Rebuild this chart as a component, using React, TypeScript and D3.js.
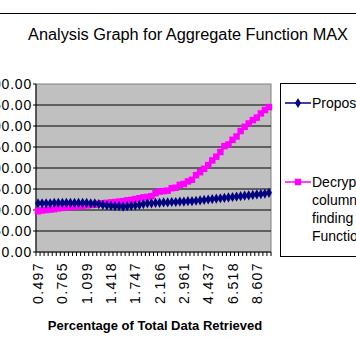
import React from "react";
import * as d3 from "d3";

const title = "Analysis Graph for Aggregate Function MAX";
const xTitle = "Percentage of Total Data Retrieved";
const tickLabels = ["0.497", "0.765", "1.099", "1.418", "1.747", "2.166", "2.961", "4.437", "6.518", "8.607"];
const labelEvery = 6;
const yTicks = [0, 50, 100, 150, 200, 250, 300, 350, 400];

const proposed = [
  116, 116, 116, 116, 117, 117, 117, 117, 117, 117, 117, 117, 117, 116, 116,
  114, 112, 111, 110, 109, 109, 108, 109, 110, 111, 112, 114,
  116, 116, 117, 117, 118, 118, 119, 119, 120, 120, 121, 121, 122, 123, 124, 125, 126, 127, 128, 129,
  130, 131, 132, 133, 134, 135, 136, 137, 138, 139, 141,
];
const decrypt = [
  97, 99, 100, 101, 102, 104, 105, 106, 107, 108,
  109, 110, 111, 112, 113, 115, 116, 117, 118, 119,
  120, 121, 123, 124, 126, 128, 130, 131, 133, 140,
  144, 145, 146, 152, 153, 160, 162, 168, 172, 183,
  190, 198, 207, 218, 227, 238, 252, 256, 267, 275,
  288, 298, 306, 314, 320, 330, 338, 345,
];
const seriesNames = ["Proposed Method", "Decrypting the column and then finding Aggregate Function"];
const legendLines2 = ["Decrypting the", "column and then", "finding Aggregate", "Function"];

const W = 356, H = 356;
const plot = { left: 36, right: 271, top: 84, bottom: 252 };
const font = "'Liberation Sans', Arial, sans-serif";

export default function App() {
  const n = proposed.length;
  const idx = d3.range(n);
  const xBand = d3.scaleBand<number>().domain(idx).range([plot.left, plot.right]).padding(0);
  const xc = (i: number) => (xBand(i) as number) + xBand.bandwidth() / 2;
  const y = d3.scaleLinear().domain([0, 400]).range([plot.bottom, plot.top]);
  const line = d3.line<number>().x((_, i) => xc(i)).y((d) => y(d));
  const diamond = d3.symbol().type(d3.symbolDiamond).size(30)() as string;
  const square = d3.symbol().type(d3.symbolSquare).size(42)() as string;
  const boundaries = d3.range(n + 1).map((i) => plot.left + i * xBand.bandwidth());

  return (
    <svg width={W} height={H} style={{ position: "fixed", left: 0, top: 0, background: "#fff" }} fontFamily={font}>
      <line x1={0} x2={W} y1={13.5} y2={13.5} stroke="#000" strokeWidth={1} />
      <text x={28} y={40} fontSize={16} fill="#000" textLength={320} lengthAdjust="spacingAndGlyphs">{title}</text>

      <rect x={plot.left} y={plot.top} width={plot.right - plot.left} height={plot.bottom - plot.top} fill="#C0C0C0" stroke="#808080" />
      {yTicks.map((t) => (
        <g key={t}>
          {t > 0 && t < 400 && <line x1={plot.left} x2={plot.right} y1={y(t)} y2={y(t)} stroke="#000" strokeWidth={1} />}
          <line x1={plot.left - 3} x2={plot.left} y1={y(t)} y2={y(t)} stroke="#000" />
          <text x={32} y={y(t) + 5} textAnchor="end" fontSize={14} letterSpacing={0.8}>{t.toFixed(2)}</text>
        </g>
      ))}
      <line x1={plot.left} x2={plot.left} y1={plot.top} y2={plot.bottom} stroke="#000" />
      <line x1={plot.left} x2={plot.right} y1={plot.bottom} y2={plot.bottom} stroke="#000" />
      {boundaries.map((b, i) => (
        <line key={i} x1={b} x2={b} y1={plot.bottom} y2={plot.bottom + 4} stroke="#000" />
      ))}
      {tickLabels.map((l, k) => (
        <text key={l} transform={`translate(${xc(k * labelEvery) + 5},${262}) rotate(-90)`} textAnchor="end" fontSize={14} letterSpacing={1.4}>{l}</text>
      ))}
      <text x={155} y={330} textAnchor="middle" fontSize={13} fontWeight="bold">{xTitle}</text>

      <path d={line(decrypt) as string} fill="none" stroke="#FF00FF" strokeWidth={2} />
      {decrypt.map((v, i) => (
        <path key={i} d={square} transform={`translate(${xc(i)},${y(v)})`} fill="#FF00FF" />
      ))}
      <path d={line(proposed) as string} fill="none" stroke="#000080" strokeWidth={1.5} />
      {proposed.map((v, i) => (
        <path key={i} d={diamond} transform={`translate(${xc(i)},${y(v)})`} fill="#000080" />
      ))}

      <rect x={280.5} y={83.5} width={100} height={173} fill="#fff" stroke="#000" />
      <line x1={285} x2={311} y1={103} y2={103} stroke="#000080" strokeWidth={1.5} />
      <path d={diamond} transform="translate(298,103)" fill="#000080" />
      <text x={312} y={108} fontSize={14}>{seriesNames[0]}</text>
      <line x1={285} x2={311} y1={182} y2={182} stroke="#FF00FF" strokeWidth={1.5} />
      <path d={square} transform="translate(298,182)" fill="#FF00FF" />
      {legendLines2.map((l, i) => (
        <text key={i} x={312} y={187 + i * 18} fontSize={14}>{l}</text>
      ))}
    </svg>
  );
}
